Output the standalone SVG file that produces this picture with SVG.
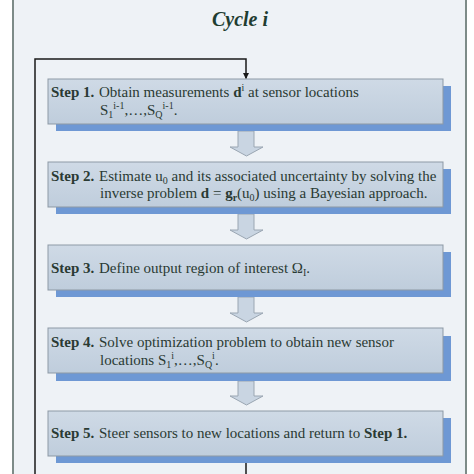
<svg xmlns="http://www.w3.org/2000/svg" width="474" height="474" viewBox="0 0 474 474">
<defs>
<linearGradient id="boxg" x1="0" y1="0" x2="0" y2="1">
<stop offset="0" stop-color="#cfdae6"/>
<stop offset="1" stop-color="#bfcddc"/>
</linearGradient>
<marker id="ah" viewBox="0 0 10 10" refX="9" refY="5" markerWidth="4" markerHeight="4" orient="auto" markerUnits="strokeWidth">
<path d="M0,0 L10,5 L0,10 Z" fill="#1a1a1a"/>
</marker>
<style>
.frame{fill:#eef2f6;stroke:#7d8b88;stroke-width:2}
.shadow{fill:#6e98d4}
.box{fill:url(#boxg);stroke:#8d99a5;stroke-width:1}
.barrow{fill:#c9d5e2;stroke:#9aa6b2;stroke-width:1}
.loop{fill:none;stroke:#1a1a1a;stroke-width:1.5}
.t{font-family:"Liberation Serif","Times New Roman",serif;font-size:15px;fill:#2a3a33}
.b{font-weight:bold}
.title{font-family:"Liberation Serif","Times New Roman",serif;font-size:20px;font-weight:bold;font-style:italic;fill:#1f3d31}
.s{font-size:10px}
</style>
</defs>
<rect width="474" height="474" fill="#ffffff"/>
<rect class="frame" x="13" y="-5" width="453" height="490"/>
<text class="title" x="240" y="26" text-anchor="middle">Cycle i</text>

<g id="connectors">
<path class="loop" d="M246,456 V480 H35 V59 H246 V78.5" marker-end="url(#ah)"/>
<path class="barrow" d="M238,131 H254 V147 H263 L246.5,156 L230,147 H238 Z"/>
<path class="barrow" d="M238,214 H254 V230 H263 L246.5,239 L230,230 H238 Z"/>
<path class="barrow" d="M238,297 H254 V313 H263 L246.5,322 L230,313 H238 Z"/>
<path class="barrow" d="M238,381 H254 V396 H263 L246.5,405 L230,396 H238 Z"/>
</g>

<g id="step1">
<rect class="shadow" x="56" y="86" width="395" height="45"/>
<rect class="box" x="48" y="79" width="395" height="45"/>
<text class="t" y="97"><tspan class="b" x="51">Step 1.</tspan><tspan x="99">Obtain measurements </tspan><tspan class="b">d</tspan><tspan class="s" dy="-6">i</tspan><tspan dy="6"> at sensor locations</tspan></text>
<text class="t" y="115"><tspan x="100">S</tspan><tspan class="s" dy="3">1</tspan><tspan class="s" dy="-9">i-1</tspan><tspan dy="6">,…,S</tspan><tspan class="s" dy="3">Q</tspan><tspan class="s" dy="-9">i-1</tspan><tspan dy="6">.</tspan></text>
</g>

<g id="step2">
<rect class="shadow" x="56" y="169" width="395" height="45"/>
<rect class="box" x="48" y="162" width="395" height="45"/>
<text class="t" y="181"><tspan class="b" x="51">Step 2.</tspan><tspan x="99">Estimate u</tspan><tspan class="s" dy="3">0</tspan><tspan dy="-3"> and its associated uncertainty by solving the</tspan></text>
<text class="t" y="198"><tspan x="100">inverse problem </tspan><tspan class="b">d</tspan><tspan> = </tspan><tspan class="b">g</tspan><tspan class="b s" dy="3">r</tspan><tspan dy="-3">(u</tspan><tspan class="s" dy="3">0</tspan><tspan dy="-3">) using a Bayesian approach.</tspan></text>
</g>

<g id="step3">
<rect class="shadow" x="56" y="252" width="395" height="45"/>
<rect class="box" x="48" y="245" width="395" height="45"/>
<text class="t" y="273"><tspan class="b" x="51">Step 3.</tspan><tspan x="99">Define output region of interest Ω</tspan><tspan class="s" dy="3">I</tspan><tspan dy="-3">.</tspan></text>
</g>

<g id="step4">
<rect class="shadow" x="56" y="336" width="395" height="45"/>
<rect class="box" x="48" y="328" width="395" height="45"/>
<text class="t" y="347"><tspan class="b" x="51">Step 4.</tspan><tspan x="99">Solve optimization problem to obtain new sensor</tspan></text>
<text class="t" y="365"><tspan x="100">locations S</tspan><tspan class="s" dy="3">1</tspan><tspan class="s" dy="-9">i</tspan><tspan dy="6">,…,S</tspan><tspan class="s" dy="3">Q</tspan><tspan class="s" dy="-9">i</tspan><tspan dy="6">.</tspan></text>
</g>

<g id="step5">
<rect class="shadow" x="56" y="418" width="395" height="45"/>
<rect class="box" x="48" y="411" width="395" height="45"/>
<text class="t" y="438"><tspan class="b" x="51">Step 5.</tspan><tspan x="99">Steer sensors to new locations and return to </tspan><tspan class="b">Step 1.</tspan></text>
</g>
</svg>
